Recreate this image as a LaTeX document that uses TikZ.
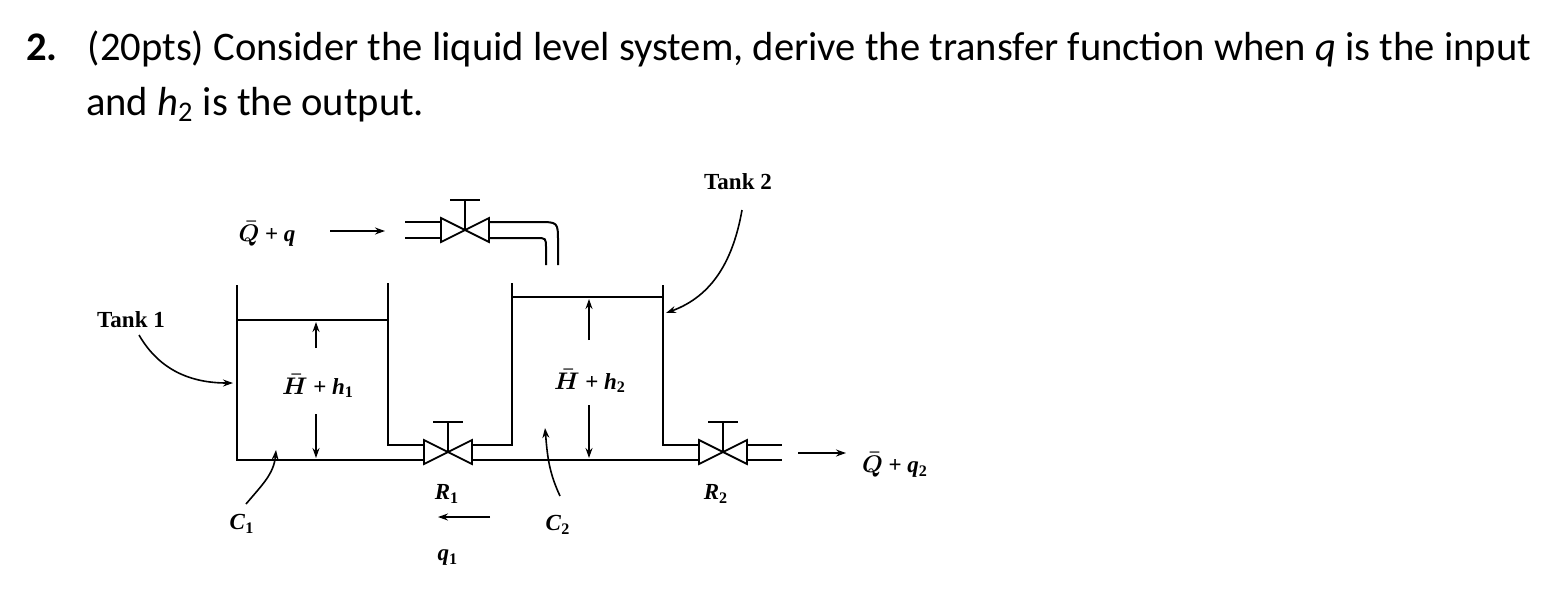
\documentclass[tikz,border=0pt]{standalone}
\usepackage{fontspec}
\setmainfont{Carlito}
\newfontfamily\dfont{Liberation Serif}
\usetikzlibrary{arrows.meta}
\begin{document}
\begin{tikzpicture}[x=0.5pt,y=-0.5pt,line width=1pt,
  lbl/.style={font=\dfont\bfseries\boldmath\fontsize{11.5}{13}\selectfont,inner sep=0pt},
  arr/.style={-{Stealth[length=5pt,width=3.5pt]},line width=0.8pt},
  vtri/.style={draw,fill=white,line width=0.9pt}]
\useasboundingbox (0,0) rectangle (1566,600);
\node[anchor=base west,inner sep=0pt,font=\fontsize{20.3}{26}\selectfont] (t1) at (25,60) {\textbf{2.}\hspace{0.75em}(20pts) Consider the liquid level system, derive the transfer function when \textit{q} is the input};
\node[anchor=base west,inner sep=0pt,font=\fontsize{20.3}{26}\selectfont] (t2) at (85,115) {and \textit{h}\textsubscript{2} is the output.};
% tank 1
\draw (237,285) -- (237,460) -- (423,460);
\draw (388,283) -- (388,445) -- (423,445);
\draw (237,320) -- (388,320);
% tank 2
\draw (512,283) -- (512,445) -- (473,445);
\draw (473,460) -- (702,460);
\draw (663,285) -- (663,445) -- (702,445);
\draw (512,297) -- (663,297);
% R2 outlet stubs
\draw (745,445) -- (782,445) (745,460) -- (782,460);
% inlet pipe
\draw (405,222) -- (442,222) (405,238) -- (442,238);
\draw (487,222) -- (538,222) .. controls (558,222) .. (558,242) -- (558,265);
\draw (487,238) -- (536,238) .. controls (546,238) .. (546,248) -- (546,265);
% valves
\foreach \n/\x/\y in {vin/465/230, vr1/448/452, vr2/723/452}{
  \coordinate (\n) at (\x,\y);
  \draw[vtri] (\x,\y) -- (\x-24,\y-12) -- (\x-24,\y+12) -- cycle;
  \draw[vtri] (\x,\y) -- (\x+24,\y-12) -- (\x+24,\y+12) -- cycle;
  \draw (\x,\y) -- (\x,\y-30) (\x-15,\y-30) -- (\x+15,\y-30);
}
% flow labels
\node[lbl,anchor=center] (qin) at (267,234) {$\bar{Q}$ + \textit{q}};
\coordinate (qa1) at (330,231); \coordinate (qa2) at (385,231);
\draw[arr] (qa1) -- (qa2);
\node[lbl] (qout) at (895,465) {$\bar{Q}$ + \textit{q}\textsubscript{2}};
\coordinate (oa1) at (798,453); \coordinate (oa2) at (846,453);
\draw[arr] (oa1) -- (oa2);
% heights
\node[lbl] (h1) at (318,386) {$\bar{H}$ + \textit{h}\textsubscript{1}};
\node[lbl] (h2) at (590,381) {$\bar{H}$ + \textit{h}\textsubscript{2}};
\coordinate (h1a) at (316,348); \coordinate (h1b) at (316,322);
\coordinate (h1c) at (316,414); \coordinate (h1d) at (316,458);
\draw[arr] (h1a) -- (h1b); \draw[arr] (h1c) -- (h1d);
\coordinate (h2a) at (589,340); \coordinate (h2b) at (589,299);
\coordinate (h2c) at (589,405); \coordinate (h2d) at (589,458);
\draw[arr] (h2a) -- (h2b); \draw[arr] (h2c) -- (h2d);
% tank labels
\node[lbl] (tank1) at (131,320) {Tank 1};
\coordinate (tk1) at (233,383);
\draw[arr] (139,335) to[out=-60,in=180] (tk1);
\node[lbl] (tank2) at (738,182) {Tank 2};
\coordinate (tk2) at (666,313);
\draw[arr] (742,210) to[out=-100,in=20] (tk2);
% capacitances
\node[lbl] (c1) at (242,524) {\textit{C}\textsubscript{1}};
\coordinate (c1a) at (276,450);
\draw[arr] (246,504) to[out=50,in=-95] (c1a);
\node[lbl] (c2) at (558,525) {\textit{C}\textsubscript{2}};
\coordinate (c2a) at (545,428);
\draw[arr] (560,496) to[out=115,in=-85] (c2a);
% resistances
\node[lbl] (r1) at (447,494) {\textit{R}\textsubscript{1}};
\node[lbl] (r2) at (716,494) {\textit{R}\textsubscript{2}};
\coordinate (q1a) at (490,517); \coordinate (q1b) at (438,517);
\draw[arr] (q1a) -- (q1b);
\node[lbl] (q1) at (448,558) {\textit{q}\textsubscript{1}};
\end{tikzpicture}
\end{document}
